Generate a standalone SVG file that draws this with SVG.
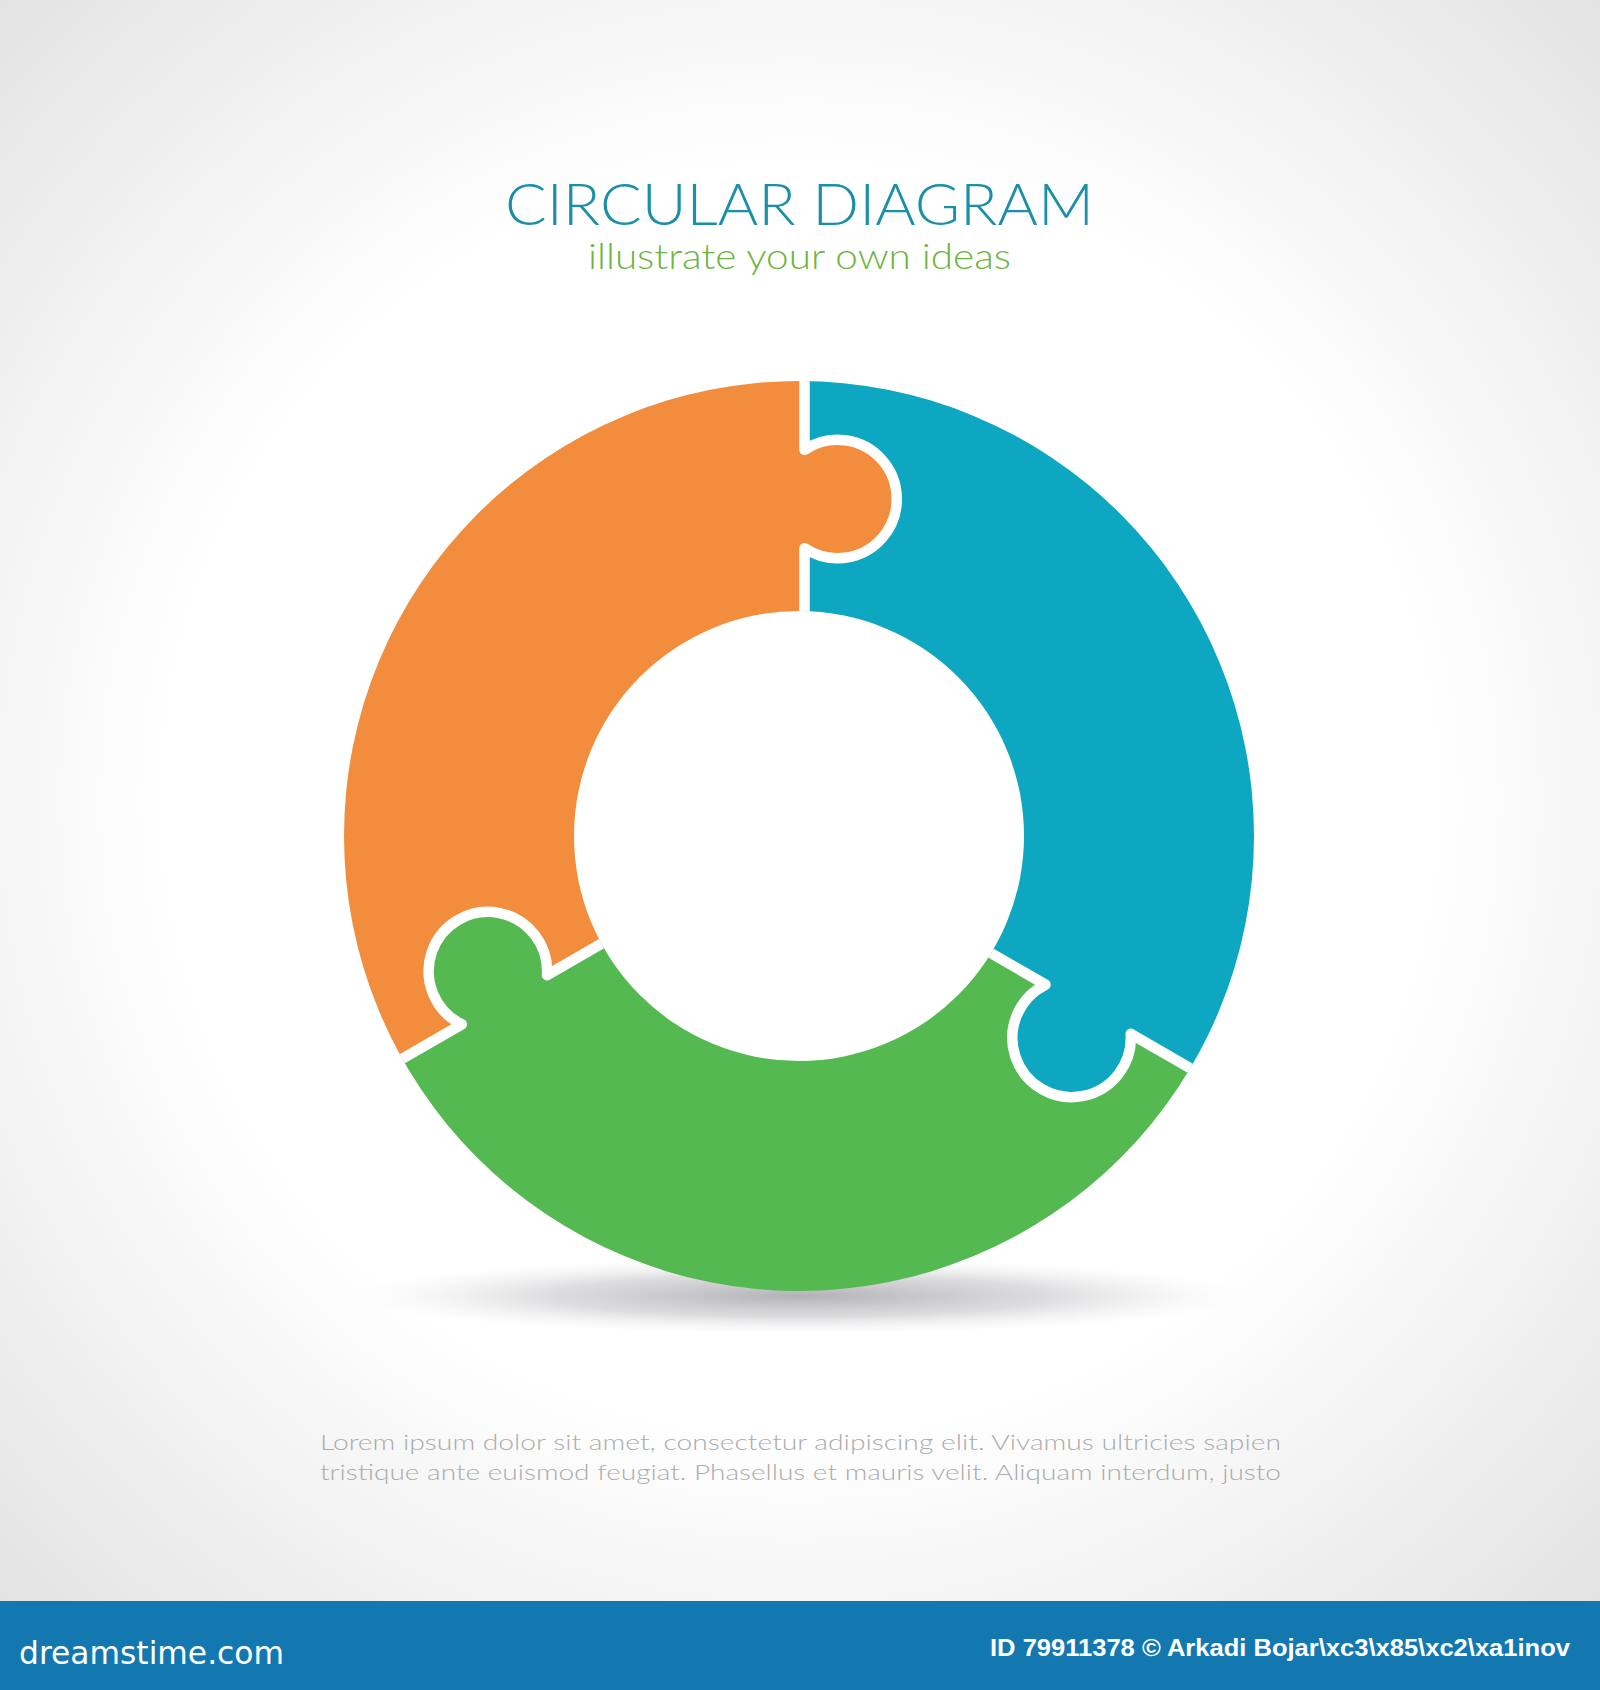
<svg xmlns="http://www.w3.org/2000/svg" width="1600" height="1690" viewBox="0 0 1600 1690">
  <defs>
    <radialGradient id="bg" cx="800" cy="800" r="1150" gradientUnits="userSpaceOnUse">
      <stop offset="0" stop-color="#ffffff"/>
      <stop offset="0.55" stop-color="#ffffff"/>
      <stop offset="1" stop-color="#e2e2e2"/>
    </radialGradient>
    <radialGradient id="shadow" cx="0.5" cy="0.5" r="0.5">
      <stop offset="0" stop-color="#a9a9ae" stop-opacity="0.9"/>
      <stop offset="0.55" stop-color="#c6c6ca" stop-opacity="0.6"/>
      <stop offset="1" stop-color="#e8e8ea" stop-opacity="0"/>
    </radialGradient>
    <clipPath id="ringClip">
      <path clip-rule="evenodd" d="M344,836 a455,455 0 1,0 910,0 a455,455 0 1,0 -910,0 Z M574,836 a225,225 0 1,0 450,0 a225,225 0 1,0 -450,0 Z"/>
    </clipPath>
    <path id="seam" d="M804.5,370 V449.8 A59.25,59.25 0 1,1 804.5,548.2 V700"/>
    <circle id="tab" cx="837.5" cy="499" r="55"/>
    <style>
      .orange { fill: #f18d3c; }
      .blue { fill: #0ea7c1; }
      .green { fill: #55b952; }
      .seam { fill: none; stroke: #ffffff; stroke-width: 10.5; stroke-linecap: butt; stroke-linejoin: round; }
      .light { font-family: Lato, "Liberation Sans", sans-serif; font-weight: 300; }
    </style>
  </defs>

  <rect x="0" y="0" width="1600" height="1690" fill="url(#bg)"/>

  <ellipse id="ring-shadow" cx="800" cy="1296" rx="450" ry="38" fill="url(#shadow)"/>

  <g id="ring" clip-path="url(#ringClip)">
    <g id="piece-blue">
      <polygon class="blue" points="804.5,200 1450,200 1450,1190.8 1402.5,1190.8 804.5,845.5"/>
    </g>
    <g id="piece-orange">
      <polygon class="orange" points="804.5,200 804.5,826.5 190,1181.2 100,1181.2 100,200"/>
    </g>
    <g id="piece-green">
      <polygon class="green" points="788,836 1402.5,1190.8 1402.5,1400 190,1400 190,1181.2"/>
    </g>
    <g id="tabs">
      <use href="#tab" class="orange"/>
      <use href="#tab" class="blue" transform="rotate(120 799 836)"/>
      <use href="#tab" class="green" transform="rotate(240 799 836)"/>
    </g>
    <g id="connectors">
      <use href="#seam" class="seam"/>
      <use href="#seam" class="seam" transform="rotate(120 799 836)"/>
      <use href="#seam" class="seam" transform="rotate(240 799 836)"/>
    </g>
  </g>

  <g id="heading">
    <text class="light" x="799.5" y="225" text-anchor="middle" font-size="58" fill="#1a8fa7" textLength="589" lengthAdjust="spacingAndGlyphs">CIRCULAR DIAGRAM</text>
    <text class="light" x="799.5" y="269" text-anchor="middle" font-size="35" fill="#6cb53e" textLength="423" lengthAdjust="spacingAndGlyphs">illustrate your own ideas</text>
  </g>

  <g id="body-text" class="light" font-size="22" fill="#acacac">
    <text x="800.5" y="1450" text-anchor="middle" textLength="961" lengthAdjust="spacingAndGlyphs">Lorem ipsum dolor sit amet, consectetur adipiscing elit. Vivamus ultricies sapien</text>
    <text x="800.5" y="1480" text-anchor="middle" textLength="961" lengthAdjust="spacingAndGlyphs">tristique ante euismod feugiat. Phasellus et mauris velit. Aliquam interdum, justo</text>
  </g>

  <g id="footer">
    <rect x="0" y="1601" width="1600" height="89" fill="#1478b0"/>
    <text x="19" y="1664" font-family="'DejaVu Sans', sans-serif" font-size="32" fill="#ffffff" textLength="265" lengthAdjust="spacingAndGlyphs">dreamstime.com</text>
    <text x="990" y="1656" font-family="'Liberation Sans', sans-serif" font-weight="bold" font-size="24" fill="#ffffff" textLength="580" lengthAdjust="spacingAndGlyphs">ID 79911378 © Arkadi Bojar\xc3\x85\xc2\xa1inov</text>
  </g>
</svg>
